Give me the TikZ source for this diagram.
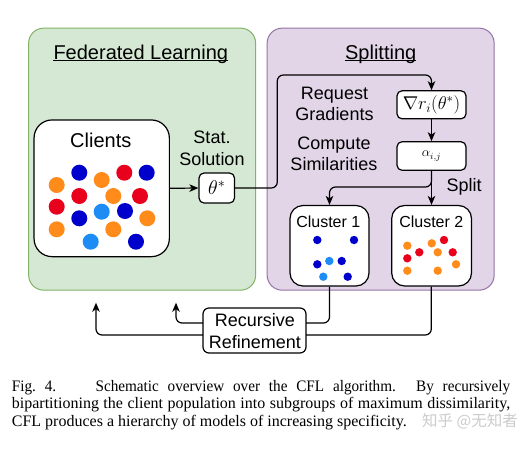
\RequirePackage{fix-cm}
\documentclass[tikz,border=0pt]{standalone}
\usepackage{fontspec}
\setmainfont{Liberation Serif}
\newfontfamily\lab{Liberation Sans}
\newfontfamily\capone[FakeStretch=0.95]{Liberation Serif}
\newfontfamily\cjk{Noto Sans CJK SC}
\usetikzlibrary{arrows.meta,calc}
\definecolor{gfill}{HTML}{D5E8D4}
\definecolor{gline}{HTML}{82B366}
\definecolor{pfill}{HTML}{E1D5E7}
\definecolor{pline}{HTML}{9673A6}
\definecolor{dorange}{HTML}{FF8C1A}
\definecolor{dred}{HTML}{E8001C}
\definecolor{dblue}{HTML}{0000CC}
\definecolor{dlblue}{HTML}{1E8CF5}
\begin{document}
\begin{tikzpicture}[x=1pt,y=-1pt,
  bigbox/.style={rounded corners=15pt, line width=1pt, minimum width=227pt, minimum height=262pt, inner sep=0},
  wbox/.style={draw=black, fill=white, line width=1.2pt, inner sep=0},
  title/.style={font=\lab\fontsize{20}{24}\selectfont, inner sep=0, anchor=base},
  lbl/.style={font=\lab\fontsize{18}{21.7}\selectfont, align=center, inner sep=0},
  clbl/.style={font=\lab\fontsize{16}{19}\selectfont, inner sep=0, anchor=base},
  conn/.style={draw=black, line width=1.2pt, rounded corners=6pt},
  arr/.style={conn, -{Stealth[length=9pt,width=7.5pt,inset=2.5pt]}},
  uline/.style={draw=black, line width=0.9pt}]
\useasboundingbox (0,0) rectangle (532,448);
\fill[white] (0,0) rectangle (532,448);

% big boxes
\node[bigbox, draw=gline, fill=gfill] (fl) at (142.15,159.15) {};
\node[bigbox, draw=pline, fill=pfill] (sp) at (380.65,159.15) {};

% titles
\node[title] (flt) at (140.8,59) {Federated Learning};
\draw[uline] ([yshift=-1.6pt]flt.base west) -- ([yshift=-1.6pt]flt.base east);
\node[title] (spt) at (380.7,59) {Splitting};
\draw[uline] ([yshift=-1.6pt]spt.base west) -- ([yshift=-1.6pt]spt.base east);

% clients
\node[wbox, rounded corners=18pt, minimum width=135.3pt, minimum height=136.7pt] (cl) at (101.7,188.3) {};
\node[title] (clt) at (100.8,147) {Clients};
\foreach \px/\py/\c in {56.7/185/dorange, 79.3/172.7/dblue, 101.7/180/dorange, 124.3/172.7/dred, 146.7/172.7/dblue,
  79.3/196/dred, 113.3/196/dorange, 140/196/dred, 56.7/206.7/dred, 101.7/211.7/dlblue, 125/211/dblue,
  79.3/218.3/dblue, 147.3/218.3/dorange, 56.7/229.3/dorange, 113.3/229.3/dorange, 90.7/241.7/dlblue, 136/241.7/dblue}
  \fill[\c] (\px,\py) circle[radius=8pt];

% stat solution
\node[lbl] (stat) at (212,148.4) {Stat.\\Solution};
\node[wbox, rounded corners=5pt, minimum width=35.5pt, minimum height=30pt] (theta) at (216.75,188) {\fontsize{20}{24}\selectfont$\theta^*$};

% splitting column
\node[wbox, rounded corners=5pt, minimum width=69pt, minimum height=28pt] (grad) at (431.5,104.8) {\fontsize{18.5}{22}\selectfont$\nabla r_i(\theta^*)$};
\node[wbox, rounded corners=5pt, minimum width=69pt, minimum height=28.5pt] (alpha) at (431.5,156) {\fontsize{13.5}{16}\selectfont$\alpha_{i,j}$};
\node[lbl] (req) at (334.5,103.9) {Request\\Gradients};
\node[lbl] (comp) at (334,153.7) {Compute\\Similarities};
\node[font=\lab\fontsize{18}{21.7}\selectfont, inner sep=0, anchor=base] (split) at (464,191) {Split};

% clusters
\node[wbox, rounded corners=13pt, minimum width=79pt, minimum height=80.5pt] (c1) at (329.5,245.75) {};
\node[wbox, rounded corners=13pt, minimum width=79.8pt, minimum height=80.5pt] (c2) at (431.6,245.75) {};
\node[clbl] (c1t) at (328.3,227.3) {Cluster 1};
\node[clbl] (c2t) at (431.3,227.3) {Cluster 2};
\foreach \px/\py/\c in {317.3/240/dblue, 354/240/dblue, 317.3/264.3/dblue, 329.3/261/dlblue, 341.7/261/dblue,
  323.3/276.7/dlblue, 347.7/276.7/dblue}
  \fill[\c] (\px,\py) circle[radius=4.2pt];
\foreach \px/\py/\c in {407.3/245.7/dorange, 431.7/243.3/dorange, 444/240/dred, 419.3/252.3/dred, 437.7/252.3/dorange,
  452.7/252.3/dred, 407.3/258.3/dred, 456/264.3/dorange, 407.3/270.7/dorange, 437.7/270.7/dorange}
  \fill[\c] (\px,\py) circle[radius=4.2pt];

% recursive refinement
\node[wbox, rounded corners=6pt, minimum width=103pt, minimum height=45pt] (rec) at (254.5,330.5) {};
\node[lbl] (rect) at (254.8,331.3) {Recursive\\Refinement};

% connectors
\coordinate (topc) at (277.3,75);
\coordinate (brc) at (329.5,187);
\coordinate (r1) at (306,323);
\coordinate (r2) at (306,335);
\coordinate (l1) at (203,323);
\coordinate (l2) at (203,335);
\coordinate (t1) at (176,302.7);
\coordinate (t2) at (96,302.7);

\draw[arr] (cl.east) -- (theta.west);
\draw[arr] (theta.east) -| (topc) -| (grad.north);
\draw[arr] (grad.south) -- (alpha.north);
\draw[arr] (alpha.south) -- (alpha.south |- c2.north);
\draw[arr] (alpha.south) |- (brc) -- (c1.north);
\draw[conn] (c1.south) |- (r1);
\draw[conn] (c2.south -| 431.3,0) |- (r2);
\draw[arr] (l1) -| (t1);
\draw[arr] (l2) -| (t2);

% caption
\node[anchor=north west, inner sep=0, text width=498.3pt, align=justify,
  font=\fontsize{16}{17.5}\selectfont] (cap) at (11.7,379.8)
  {{\capone Fig.~4.\hspace{1.2em} Schematic overview over the CFL algorithm. By recursively}\linebreak bipartitioning the client population into subgroups of maximum dissimilarity,\linebreak CFL produces a hierarchy of models of increasing specificity.};
\node[anchor=base west, inner sep=0, font=\cjk\fontsize{15.5}{15.5}\selectfont, text=black!20] (wm) at (422,426.5) {知乎 @无知者};
\end{tikzpicture}
\end{document}
